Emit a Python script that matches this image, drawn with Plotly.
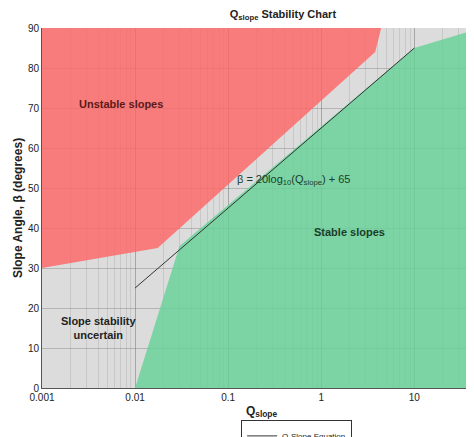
import numpy as np
import plotly.graph_objects as go

# region boundaries
unstable_q = [0.001, 0.001, 0.0175, 3.8, 4.4, 0.001]
unstable_b = [90, 30, 35, 84, 90, 90]
stable_q = [0.01, 0.03, 10, 52, 52, 0.01]
stable_b = [0, 35.5, 85, 90, 0, 0]
eq_q = [0.01, 10]
eq_b = [20 * np.log10(q) + 65 for q in eq_q]

fig = go.Figure()

fig.add_trace(go.Scatter(x=unstable_q, y=unstable_b, fill="toself", mode="lines",
                         line=dict(width=0), fillcolor="rgba(255,100,100,0.8)",
                         showlegend=False, hoverinfo="skip"))
fig.add_trace(go.Scatter(x=stable_q, y=stable_b, fill="toself", mode="lines",
                         line=dict(width=0), fillcolor="rgba(100,210,150,0.8)",
                         showlegend=False, hoverinfo="skip"))
fig.add_trace(go.Scatter(x=eq_q, y=eq_b, mode="lines", name="Q-Slope Equation",
                         line=dict(color="#333", width=1)))

fig.add_annotation(x=np.log10(0.007), y=71, text="<b>Unstable slopes</b>", showarrow=False,
                   font=dict(size=11, color="#5a1a1a"))
fig.add_annotation(x=np.log10(2), y=39, text="<b>Stable slopes</b>", showarrow=False,
                   font=dict(size=11, color="#1a3d2a"))
fig.add_annotation(x=np.log10(0.004), y=15, text="<b>Slope stability<br>uncertain</b>",
                   showarrow=False, font=dict(size=11, color="#222"))
fig.add_annotation(x=np.log10(0.5), y=52, text="β = 20log<sub>10</sub>(Q<sub>slope</sub>) + 65",
                   showarrow=False, font=dict(size=11, color="#1a3d2a"))

fig.update_layout(
    title=dict(text="<b>Q<sub>slope</sub> Stability Chart</b>", x=0.58, y=0.995,
               font=dict(size=11, color="#222")),
    width=474, height=437,
    margin=dict(l=34, r=1, t=20, b=57, autoexpand=False),
    plot_bgcolor="rgb(220,220,220)", paper_bgcolor="white",
    font=dict(family="Liberation Sans, Arial", size=10, color="#222"),
    showlegend=True,
    legend=dict(x=0.58, y=-0.09, xanchor="center", yanchor="top",
                bordercolor="#333", borderwidth=1, font=dict(size=8),
                tracegroupgap=0, itemwidth=30),
    xaxis=dict(type="log", range=[-3, np.log10(52)],
               tickvals=[0.001, 0.01, 0.1, 1, 10], ticktext=["0.001", "0.01", "0.1", "1", "10"],
               showgrid=True, gridcolor="rgba(90,90,90,0.3)",
               minor=dict(dtick="D1", showgrid=True, gridcolor="rgba(90,90,90,0.15)"),
               title=dict(text="<b>Q<sub>slope</sub></b>", font=dict(size=12), standoff=4),
               showline=True, linecolor="#555", layer="above traces", ticks=""),
    yaxis=dict(range=[0, 90], dtick=10, showgrid=True, gridcolor="rgba(90,90,90,0.3)",
               title=dict(text="<b>Slope Angle, β (degrees)</b>", font=dict(size=12), standoff=2),
               showline=True, linecolor="#555", layer="above traces", zeroline=False),
)

fig.write_html("out.html")
